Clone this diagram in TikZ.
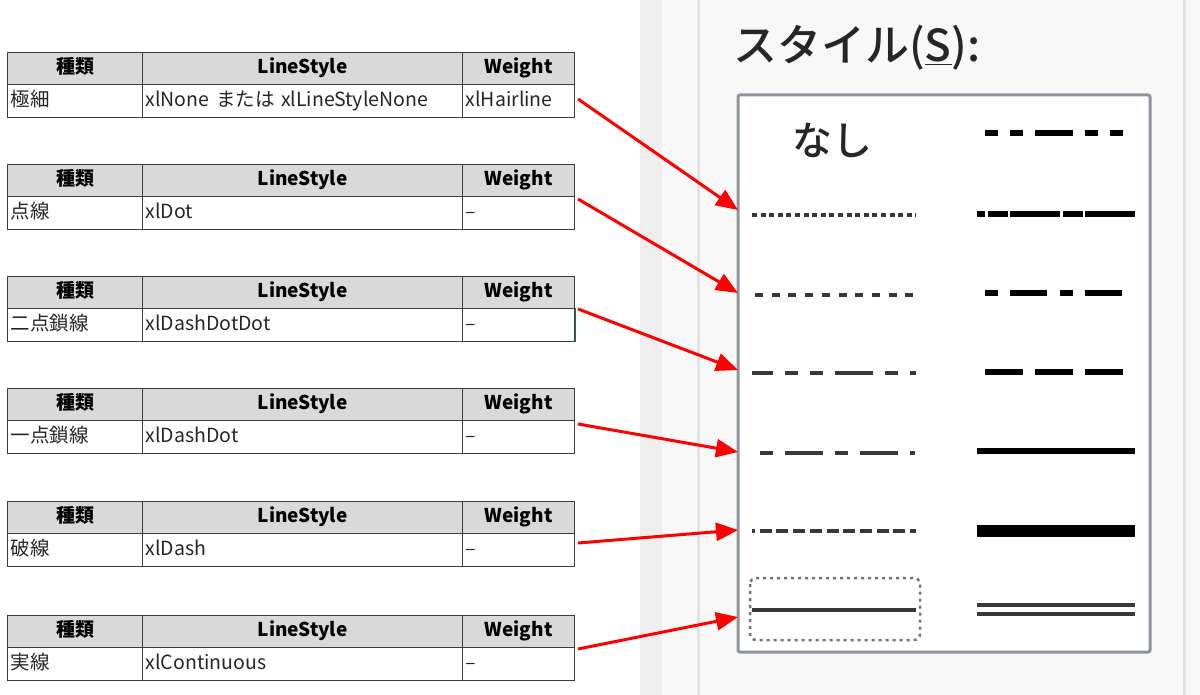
\documentclass[tikz,border=0pt]{standalone}
\usepackage{fontspec}
\setmainfont{Noto Sans CJK JP}
\newfontfamily\uifont{Noto Sans CJK JP}[UprightFont=* Medium]
\usetikzlibrary{arrows.meta}
\definecolor{gridline}{HTML}{3C3C3C}
\definecolor{headfill}{HTML}{D9D9D9}
\definecolor{celltext}{HTML}{262626}
\definecolor{panelbg}{HTML}{F8F8F8}
\definecolor{panelstrip}{HTML}{EEEEEE}
\definecolor{panelline}{HTML}{E2E2E2}
\definecolor{boxline}{HTML}{8E949B}
\definecolor{xlgreen}{HTML}{217346}
\definecolor{thinline}{HTML}{383838}

\begin{document}
\begin{tikzpicture}[x=1pt,y=-1pt,
    cell/.style={draw=gridline, line width=1.3pt, anchor=north west, inner xsep=3pt, inner ysep=0pt,
      minimum height=33pt, text height=14pt, text depth=4pt, align=left, text=celltext,
      font=\fontsize{19.5}{21}\selectfont},
    head/.style={cell, fill=headfill, minimum height=32pt, align=center, text=black,
      font=\fontsize{19}{21}\selectfont\bfseries},
    kind/.style={text width=129pt},
    lstyle/.style={text width=314pt},
    weight/.style={text width=106pt},
    sample/.style={line width=3.5pt, draw=thinline},
    bold sample/.style={line width=6pt, draw=black},
    pointer/.style={draw=red, line width=3pt, -{Triangle[length=22pt,width=18pt]}}]
  \useasboundingbox (0,0) rectangle (1200,695);

  % dialog panel
  \fill[panelbg] (640,0) rectangle (1200,695);
  \fill[panelstrip] (640,0) rectangle (662,695);
  \draw[panelline, line width=3pt] (698,0) -- (698,695);
  \draw[panelline, line width=3pt] (1184,0) -- (1184,695);
  \node[anchor=west, inner sep=0pt, text=celltext, font=\uifont\fontsize{44}{48}\selectfont] (title) at (733,48) {スタイル(\underline{S}):};
  \draw[boxline, fill=white, line width=3pt, rounded corners=2pt] (738,95) rectangle (1150,652);
  \node[text=celltext, font=\uifont\fontsize{40}{44}\selectfont] (none) at (832,140) {なし};

  % left column
  \draw[sample, dash pattern=on 5pt off 3.6pt] (752,215) -- (916,215);
  \draw[sample, dash pattern=on 8pt off 8.7pt] (755,295) -- (915,295);
  \draw[sample, dash pattern=on 38pt off 12pt on 13pt off 12pt on 13pt off 12pt, dash phase=17pt] (752,373) -- (916,373);
  \draw[sample, dash pattern=on 13pt off 12pt on 38pt off 12pt] (760,453) -- (915,453);
  \draw[sample, dash pattern=on 12pt off 4.7pt, dash phase=9pt] (752,531) -- (916,531);
  \draw[sample, line width=4.5pt] (752,610) -- (916,610);
  \draw[gray!90!black, line width=2.5pt, dash pattern=on 3pt off 4pt, rounded corners=6pt] (750,578) rectangle (920,640);

  % right column
  \draw[bold sample, dash pattern=on 12.5pt off 12.5pt on 12.5pt off 12.5pt on 38pt off 12pt] (985,133) -- (1123,133);
  \draw[bold sample, line width=5.5pt, dash pattern=on 50pt off 2.5pt on 20pt off 2.5pt, dash phase=42pt] (977,214) -- (1135,214);
  \draw[bold sample, dash pattern=on 13pt off 12pt on 37pt off 13pt] (985,293) -- (1123,293);
  \draw[bold sample, dash pattern=on 38pt off 12pt] (985,372) -- (1123,372);
  \draw[bold sample, line width=6.5pt] (977,451) -- (1135,451);
  \draw[bold sample, line width=12pt] (977,531) -- (1135,531);
  \draw[sample] (977,605) -- (1135,605);
  \draw[sample] (977,614) -- (1135,614);

  % tables
  \node[head, kind] (h1a) at (7,52) {種類};
  \node[head, lstyle] (h1b) at (142,52) {LineStyle};
  \node[head, weight] (h1c) at (462,52) {Weight};
  \node[cell, kind] (r1a) at (7,84) {極細};
  \node[cell, lstyle] (r1b) at (142,84) {xlNone または xlLineStyleNone};
  \node[cell, weight] (r1c) at (462,84) {xlHairline};

  \node[head, kind] (h2a) at (7,164) {種類};
  \node[head, lstyle] (h2b) at (142,164) {LineStyle};
  \node[head, weight] (h2c) at (462,164) {Weight};
  \node[cell, kind] (r2a) at (7,196) {点線};
  \node[cell, lstyle] (r2b) at (142,196) {xlDot};
  \node[cell, weight] (r2c) at (462,196) {–};

  \node[head, kind] (h3a) at (7,276) {種類};
  \node[head, lstyle] (h3b) at (142,276) {LineStyle};
  \node[head, weight] (h3c) at (462,276) {Weight};
  \node[cell, kind] (r3a) at (7,308) {二点鎖線};
  \node[cell, lstyle] (r3b) at (142,308) {xlDashDotDot};
  \node[cell, weight] (r3c) at (462,308) {–};
  \draw[xlgreen, line width=1.5pt] (r3c.north east) -- (r3c.south east);

  \node[head, kind] (h4a) at (7,388) {種類};
  \node[head, lstyle] (h4b) at (142,388) {LineStyle};
  \node[head, weight] (h4c) at (462,388) {Weight};
  \node[cell, kind] (r4a) at (7,420) {一点鎖線};
  \node[cell, lstyle] (r4b) at (142,420) {xlDashDot};
  \node[cell, weight] (r4c) at (462,420) {–};

  \node[head, kind] (h5a) at (7,501) {種類};
  \node[head, lstyle] (h5b) at (142,501) {LineStyle};
  \node[head, weight] (h5c) at (462,501) {Weight};
  \node[cell, kind] (r5a) at (7,533) {破線};
  \node[cell, lstyle] (r5b) at (142,533) {xlDash};
  \node[cell, weight] (r5c) at (462,533) {–};

  \node[head, kind] (h6a) at (7,615) {種類};
  \node[head, lstyle] (h6b) at (142,615) {LineStyle};
  \node[head, weight] (h6c) at (462,615) {Weight};
  \node[cell, kind] (r6a) at (7,647) {実線};
  \node[cell, lstyle] (r6b) at (142,647) {xlContinuous};
  \node[cell, weight] (r6c) at (462,647) {–};

  % arrows
  \coordinate (from1) at (578,99);
  \coordinate (from2) at (578,199);
  \coordinate (from3) at (578,309);
  \coordinate (from4) at (578,424);
  \coordinate (from5) at (578,543);
  \coordinate (from6) at (578,649);
  \coordinate (to1) at (738,210);
  \coordinate (to2) at (738,293);
  \coordinate (to3) at (738,370);
  \coordinate (to4) at (738,452);
  \coordinate (to5) at (738,530);
  \coordinate (to6) at (738,617);
  \begin{scope}[pointer]
    \draw (from1) -- (to1);
    \draw (from2) -- (to2);
    \draw (from3) -- (to3);
    \draw (from4) -- (to4);
    \draw (from5) -- (to5);
    \draw (from6) -- (to6);
  \end{scope}
\end{tikzpicture}
\end{document}
